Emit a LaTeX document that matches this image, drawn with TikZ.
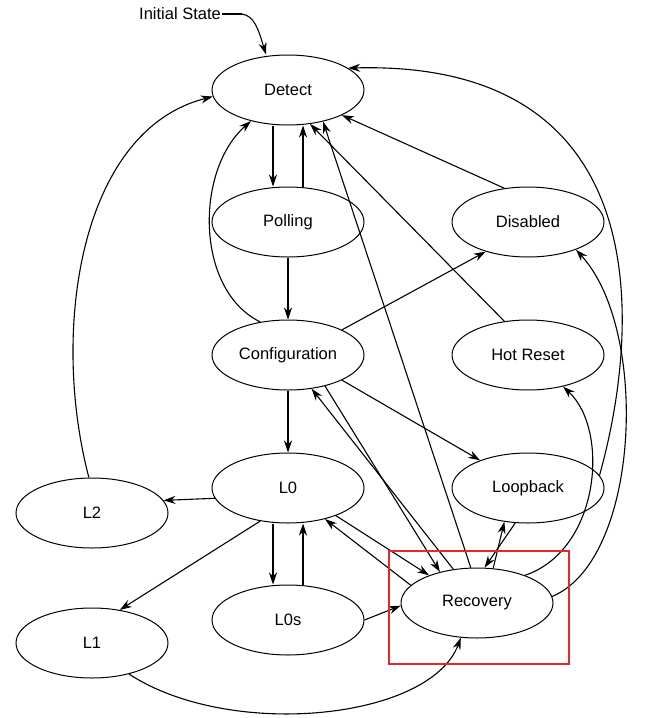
\documentclass[tikz,border=0pt]{standalone}
\usepackage{fontspec}
\setmainfont{Liberation Sans}
\usetikzlibrary{shapes.geometric,arrows.meta}
\definecolor{boxred}{RGB}{230,40,40}
\begin{document}
\begin{tikzpicture}[x=1pt,y=-1pt,
  st/.style={ellipse,draw,line width=1pt,minimum width=152pt,minimum height=70pt,inner sep=0pt,font=\fontsize{16.5}{19}\selectfont},
  ar/.style={line width=1.1pt,-{Stealth[length=12pt,width=8pt]}}]
\useasboundingbox (0,0) rectangle (648,718);
\node[st] (det) at (288,90) {Detect};
\node[st] (pol) at (288,222) {Polling};
\node[st] (dis) at (528,222) {Disabled};
\node[st] (cfg) at (288,355) {Configuration};
\node[st] (hot) at (528,355) {Hot Reset};
\node[st] (l0) at (288,488) {L0};
\node[st] (lb) at (528,488) {Loopback};
\node[st] (l2) at (92,513) {L2};
\node[st] (l0s) at (288,620) {L0s};
\node[st] (rec) at (477,603) {Recovery};
\node[st] (l1) at (92,643) {L1};
\node[font=\fontsize{16.5}{19}\selectfont,anchor=east,inner sep=1pt] (ini) at (222,14) {Initial State};
\coordinate (ik) at (242,14);
\draw[line width=1.1pt] (ini.east) -- (ik);
\draw[ar] (ik) .. controls (254,16) and (258,28) .. ([xshift=-22pt]det.north);
\draw[ar] ([xshift=-15pt]det.south) -- ([xshift=-15pt]pol.north);
\draw[ar] ([xshift=15pt]pol.north) -- ([xshift=15pt]det.south);
\draw[ar] (pol) -- (cfg);
\draw[ar] (cfg) -- (l0);
\draw[ar] ([xshift=-15pt]l0.south) -- ([xshift=-15pt]l0s.north);
\draw[ar] ([xshift=15pt]l0s.north) -- ([xshift=15pt]l0.south);
\draw[ar] (cfg.130) .. controls (195,290) and (195,170) .. (det.220);
\draw[ar] (l2.95) .. controls (50,330) and (80,130) .. (det.185);
\draw[ar] (cfg.25) -- (dis.215);
\draw[ar] (cfg.335) -- (lb.150);
\draw[ar] (dis.125) -- (det.335);
\draw[ar] (hot.125) -- (det.303);
\draw[ar] (rec.100) -- (det.318);
\draw[ar] (rec.125) -- (cfg.305);
\draw[ar] (cfg.320) -- (rec.140);
\draw[ar] (l0.330) -- (rec.150);
\draw[ar] (rec.165) -- (l0.320);
\draw[ar] (l0.188) -- (l2.10);
\draw[ar] (l0.230) -- (l1.50);
\draw[ar] (l0s.east) -- (rec.182);
\draw[ar] (l1.320) .. controls (230,740) and (430,720) .. (rec.245);
\draw[ar] (lb.250) -- (rec.78);
\draw[ar] (rec.65) -- (lb.235);
\draw[ar] (rec.30) .. controls (600,550) and (610,430) .. (hot.318);
\draw[ar] (rec.5) .. controls (640,560) and (650,330) .. (dis.330);
\draw[ar] (lb.10) .. controls (640,330) and (660,60) .. (det.20);
\draw[boxred,line width=1.2pt] (389,551) rectangle (569,664);
\end{tikzpicture}
\end{document}
